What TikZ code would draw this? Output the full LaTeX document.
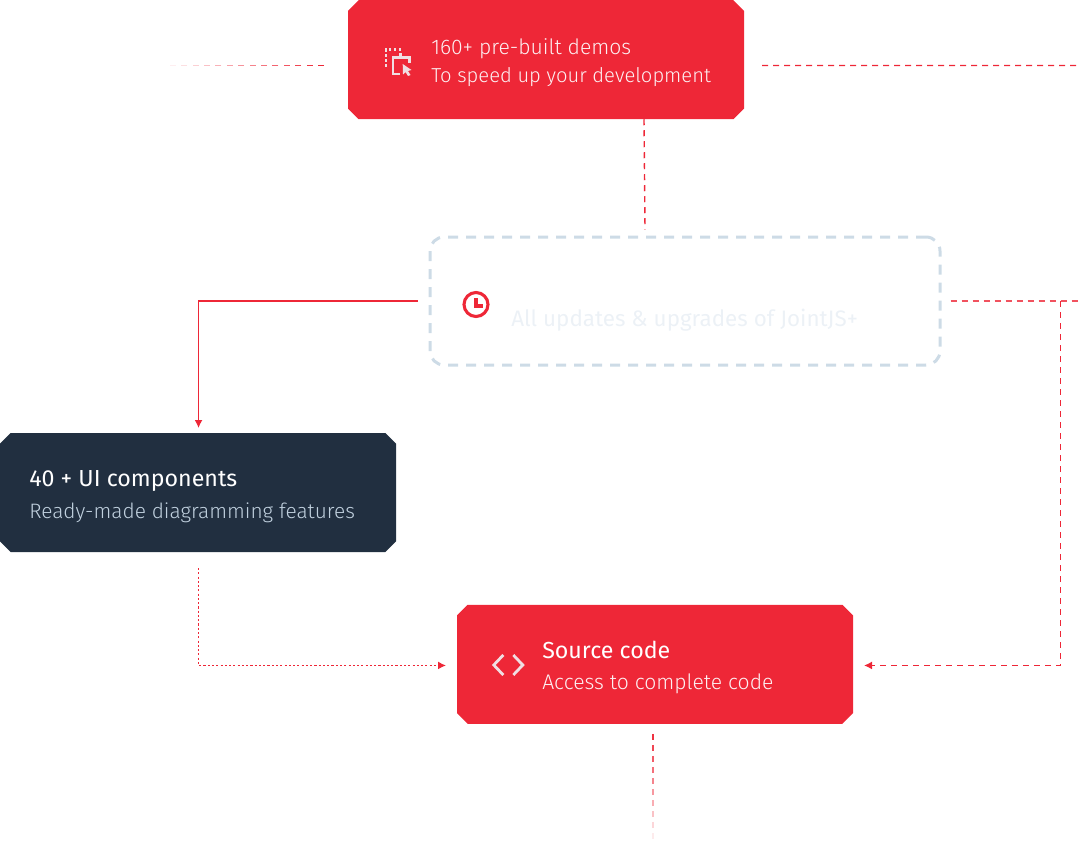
\documentclass[tikz,border=0pt]{standalone}
\usepackage{fontspec}
\setmainfont{Fira Sans}
\newfontfamily\lightfont{Fira Sans Light}
\usetikzlibrary{positioning}
\usetikzlibrary{arrows.meta}
\definecolor{jjred}{RGB}{238,39,55}
\definecolor{jjnavy}{RGB}{33,47,64}
\definecolor{jjdash}{RGB}{205,219,230}
\definecolor{jjpale}{RGB}{236,241,246}
\definecolor{jjsub}{RGB}{192,208,222}
\definecolor{jjtext}{RGB}{253,240,242}
\definecolor{jjicon}{RGB}{240,222,226}
\tikzset{
  cardbox/.style={rectangle,inner sep=0pt,outer sep=0pt,minimum width=297pt,minimum height=89.25pt},
  labeltext/.style={anchor=base west,inner sep=0pt},
  link/.style={jjred,line width=1.05pt},
  arrowtip/.style={-{Latex[length=6pt,width=6pt]}},
  longdash/.style={dash pattern=on 4.5pt off 3.75pt}
}
\newcommand{\cardfill}[2]{
\fill[#2] ([xshift=8pt]#1.north west) -- ([xshift=-8pt]#1.north east) -- ([yshift=-8pt]#1.north east)
  -- ([yshift=8pt]#1.south east) -- ([xshift=-8pt]#1.south east) -- ([xshift=8pt]#1.south west)
  -- ([yshift=8pt]#1.south west) -- ([yshift=-8pt]#1.north west) -- cycle;
}
\begin{document}
\begin{tikzpicture}[x=0.75pt,y=-0.75pt]
\useasboundingbox (0,0) rectangle (1080,866);
% cards
\node[cardbox] (demos) at (546,59.75) {};
\node[cardbox] (ui) at (198,492.5) {};
\node[cardbox] (source) at (655,664.25) {};
\cardfill{demos}{jjred}
\cardfill{ui}{jjnavy}
\cardfill{source}{jjred}
\node[draw=jjdash,line width=2.25pt,dash pattern=on 7.5pt off 6pt,rounded corners=10.5pt,minimum width=382.5pt,minimum height=96pt,inner sep=0pt] (updates) at (685,301) {};
% free ends
\coordinate (demosL) at ([xshift=-18pt,yshift=-4.3pt]demos.west);
\coordinate (demosR) at ([xshift=13.5pt,yshift=-4.3pt]demos.east);
\coordinate (edgeT) at (1084,65.5);
\coordinate (demosB) at ([xshift=73.5pt]demos.south);
\coordinate (updatesT) at ([xshift=-30pt,yshift=4.5pt]updates.north);
\coordinate (updatesL) at ([xshift=-8.25pt]updates.west);
\coordinate (updatesR) at ([xshift=6.75pt]updates.east);
\coordinate (edgeR) at (1084,301);
\coordinate (splitR) at (1060.5,301);
\coordinate (uiT) at ([xshift=0.4pt,yshift=3.75pt]ui.north);
\coordinate (uiB) at ([xshift=0.4pt,yshift=-12pt]ui.south);
\coordinate (sourceL) at ([xshift=-8.25pt,yshift=-0.9pt]source.west);
\coordinate (sourceR) at ([xshift=8.25pt,yshift=-0.9pt]source.east);
\coordinate (sourceB) at ([xshift=-1.5pt,yshift=-7.5pt]source.south);
% connectors
\draw[link,longdash] (demosR) -- (edgeT);
\draw[link,longdash] (demosB) -- (updatesT);
\draw[link,longdash,opacity=0.8] (updatesR) -- (edgeR);
\draw[link,arrowtip,longdash] (splitR) |- (sourceR);
\draw[link,arrowtip] (updatesL) -| (uiT);
\draw[link,arrowtip,dash pattern=on 1.6pt off 1.6pt] (uiB) |- (sourceL);
% fading stubs
\foreach \i in {0,...,13}{
  \pgfmathsetmacro{\p}{100-7.1*\i}
  \draw[jjred!\p!white,line width=1.05pt] ([xshift=-8.55*\i pt]demosL) -- ([xshift=-8.55*\i pt-4.5pt]demosL);
}
\foreach \i in {0,...,9}{
  \pgfmathsetmacro{\p}{95-9.5*\i}
  \draw[jjred!\p!white,line width=1.2pt] ([yshift=-8.25*\i pt]sourceB) -- ([yshift=-8.25*\i pt-4.5pt]sourceB);
}
% texts
\node[labeltext,text=jjtext,font=\lightfont\fontsize{15.85}{20}\selectfont] (demosHead) at (431,54.5) {160+ pre-built demos};
\node[labeltext,text=jjtext,font=\lightfont\fontsize{15.15}{20}\selectfont] (demosSub) at (431,82.5) {To speed up your development};
\node[labeltext,text=jjpale,font=\fontsize{16.8}{20}\selectfont] (updatesSub) at (511,326.5) {All updates \& upgrades of JointJS+};
\node[labeltext,text=white,font=\fontsize{17.4}{20}\selectfont] (uiHead) at (29,486.5) {40 + UI components};
\node[labeltext,text=jjsub,font=\lightfont\fontsize{15.65}{20}\selectfont] (uiSub) at (29,518.5) {Ready-made diagramming features};
\node[labeltext,text=white,font=\fontsize{17.4}{20}\selectfont] (sourceHead) at (542,658) {Source code};
\node[labeltext,text=jjtext,font=\lightfont\fontsize{15.85}{20}\selectfont] (sourceSub) at (542,689.5) {Access to complete code};
% icons
\draw[jjicon,line width=1.9pt,dash pattern=on 1.9pt off 1.9pt] (386,67) -- (386,49.5) -- (402,49.5);
\draw[jjicon,line width=1.9pt] (400,74) -- (393,74) -- (393,57.5) -- (409.5,57.5) -- (409.5,63);
\draw[jjicon,line width=1.9pt] (400.7,53) -- (400.7,57.5);
\fill[jjicon] (402.7,64) -- (411.5,70) -- (408,71) -- (410.5,75) -- (408,76) -- (405.5,72) -- (403,74.5) -- cycle;
\draw[jjred,line width=2.3pt] (476,304.5) circle (12);
\draw[jjred,line width=2.3pt] (476,298) -- (476,306) -- (482.5,306);
\draw[jjicon,line width=2.1pt] (503.3,655) -- (493.8,665) -- (503.3,675);
\draw[jjicon,line width=2.1pt] (513.3,655) -- (522.8,665) -- (513.3,675);
\end{tikzpicture}
\end{document}
